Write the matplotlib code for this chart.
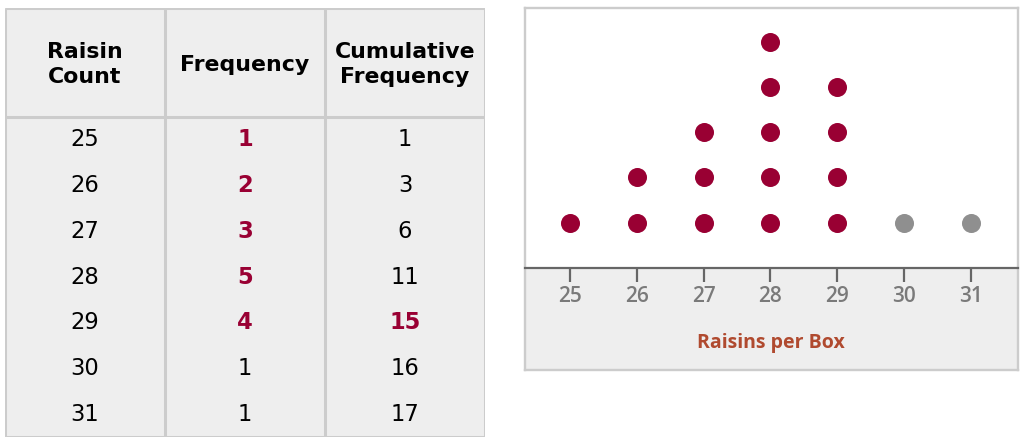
import matplotlib
matplotlib.use("Agg")
import matplotlib.pyplot as plt
from matplotlib.patches import Rectangle

# ---- data ----
raisin_counts = [25, 26, 27, 28, 29, 30, 31]
frequency = [1, 2, 3, 5, 4, 1, 1]
cumulative = [1, 3, 6, 11, 15, 16, 17]
headers = ["Raisin\nCount", "Frequency", "Cumulative\nFrequency"]
highlight_freq_rows = [0, 1, 2, 3, 4]      # red bold frequency cells
highlight_cum_rows = [4]                   # red bold cumulative cell
red_dot_values = [25, 26, 27, 28, 29]      # dots drawn in red
x_label = "Raisins per Box"

RED = "#990033"
GRAY_DOT = "#8f8f8f"
CELL_BG = "#eeeeee"
BORDER = "#cccccc"

W, H = 1024, 446
fig = plt.figure(figsize=(W / 100, H / 100), dpi=100)
fig.patch.set_facecolor("white")

def fbox(x0, y0, x1, y1):
    return [x0 / W, 1 - y1 / H, (x1 - x0) / W, (y1 - y0) / H]

# ---------------- table ----------------
tax = fig.add_axes(fbox(5, 8, 485, 437))
n = len(raisin_counts)
hh = 109 / 45.7  # header height in row units
tax.set_xlim(0, 3)
tax.set_ylim(hh + n, 0)
tax.axis("off")
tax.add_patch(Rectangle((0, 0), 3, hh + n, facecolor=CELL_BG, edgecolor="none"))
for c in range(4):
    tax.plot([c, c], [0, hh + n], color=BORDER, lw=2.2, solid_capstyle="butt")
for yy in [0, hh, hh + n]:
    tax.plot([0, 3], [yy, yy], color=BORDER, lw=2.2, solid_capstyle="butt")

for c, h in enumerate(headers):
    tax.text(c + 0.5, hh / 2 + 0.05, h, ha="center", va="center", fontsize=15.8,
             fontweight="bold", color="black", linespacing=1.3, family="DejaVu Sans")

FS = 16.3
for i in range(n):
    yc = hh + i + 0.5
    tax.text(0.5, yc, str(raisin_counts[i]), ha="center", va="center",
             fontsize=FS, color="black")
    if i in highlight_freq_rows:
        tax.text(1.5, yc, str(frequency[i]), ha="center", va="center",
                 fontsize=FS, color=RED, fontweight="bold")
    else:
        tax.text(1.5, yc, str(frequency[i]), ha="center", va="center",
                 fontsize=FS, color="black")
    if i in highlight_cum_rows:
        tax.text(2.5, yc, str(cumulative[i]), ha="center", va="center",
                 fontsize=FS, color=RED, fontweight="bold")
    else:
        tax.text(2.5, yc, str(cumulative[i]), ha="center", va="center",
                 fontsize=FS, color="black")

# ---------------- dot plot ----------------
ax = fig.add_axes(fbox(525, 8, 1018, 370))
unit_x = 66.83
ax.set_xlim(25 - 45 / unit_x, 31 + 47 / unit_x)
ax.set_ylim(-2.25, 5.74)
ax.set_facecolor("white")
ax.axhspan(-2.25, 0, color=CELL_BG, zorder=0)

for v, f in zip(raisin_counts, frequency):
    col = RED if v in red_dot_values else GRAY_DOT
    ax.plot([v] * f, [k + 1 for k in range(f)], "o", color=col,
            markersize=13.7, markeredgewidth=0, zorder=3)

for s in ["left", "right", "top"]:
    ax.spines[s].set_color(BORDER)
    ax.spines[s].set_linewidth(1.7)
ax.spines["bottom"].set_position(("data", 0))
ax.spines["bottom"].set_color("#666666")
ax.spines["bottom"].set_linewidth(1.6)
ax.set_yticks([])
ax.set_xticks(raisin_counts)
ax.set_xticklabels([str(v) for v in raisin_counts])
ax.tick_params(axis="x", direction="out", length=10, width=1.6, color="#666666",
               labelsize=15, labelcolor="#7a7a7a", pad=3)
for lab in ax.get_xticklabels():
    lab.set_fontfamily("Open Sans")
    lab.set_fontweight("semibold")

ax.plot([0, 1], [0, 0], transform=ax.transAxes, color=BORDER, lw=1.7, clip_on=False)
ax.text(28, -1.66, x_label, ha="center", va="center", fontsize=14,
        fontweight="bold", color="#b04a2f", family="Open Sans")

fig.savefig("out.png", dpi=100, facecolor="white")
